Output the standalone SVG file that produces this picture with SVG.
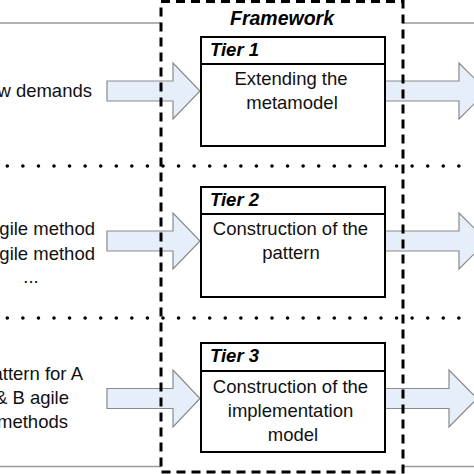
<svg xmlns="http://www.w3.org/2000/svg" width="474" height="474" viewBox="0 0 474 474">
<style>
  .gray { stroke: #9a9a9a; stroke-width: 1.5; fill: none; }
  .dots { stroke: #000; stroke-width: 3.6; stroke-linecap: round; stroke-dasharray: 0 15.57; fill: none; }
  .arrow { fill: #e6eff9; stroke: #8a8a8a; stroke-width: 1.2; stroke-linejoin: miter; }
  .frame { fill: none; stroke: #000; stroke-width: 3; stroke-dasharray: 9 6; }
  .box { fill: #fff; stroke: #000; stroke-width: 2; }
  .txt { font-family: "Liberation Sans", Arial, sans-serif; font-size: 18.5px; fill: #111; }
  .hdr { font-family: "Liberation Sans", Arial, sans-serif; font-size: 18.5px; font-weight: bold; font-style: italic; fill: #000; }
  .ttl { font-size: 19.5px; }
</style>
<rect x="0" y="0" width="474" height="474" fill="#fff"/>
<g id="separators">
  <line class="gray" x1="0" y1="23" x2="161" y2="23"/>
  <line class="gray" x1="403" y1="23" x2="474" y2="23"/>
  <line class="gray" x1="0" y1="466.5" x2="161" y2="466.5"/>
  <line class="gray" x1="403" y1="466.5" x2="474" y2="466.5"/>
  <line class="dots" x1="7.3" y1="166" x2="474" y2="166"/>
  <line class="dots" x1="7.3" y1="318" x2="474" y2="318"/>
</g>
<g id="connectors">
  <polygon class="arrow" points="107,81 173,81 173,63 200,91 173,119 173,101 107,101"/>
  <polygon class="arrow" points="107,231 173,231 173,213 200,241 173,269 173,251 107,251"/>
  <polygon class="arrow" points="107,388.5 173,388.5 173,370 200,398.5 173,427 173,408.5 107,408.5"/>
  <polygon class="arrow" points="385,81 459,81 459,63 487,91 459,119 459,101 385,101"/>
  <polygon class="arrow" points="385,231 459,231 459,213 487,241 459,269 459,251 385,251"/>
  <polygon class="arrow" points="385,388.5 449,388.5 449,370 477,398.5 449,427 449,408.5 385,408.5"/>
</g>
<g id="framework">
  <rect class="frame" x="161" y="1.5" width="242" height="470.5"/>
  <text class="hdr ttl" x="230" y="25">Framework</text>
</g>
<g id="input1">
  <text class="txt" x="92" y="97" text-anchor="end">New demands</text>
</g>
<g id="input2">
  <text class="txt" x="95" y="235" text-anchor="end">A agile method</text>
  <text class="txt" x="95" y="259.5" text-anchor="end">B agile method</text>
  <text class="txt" x="31" y="283" text-anchor="middle">...</text>
</g>
<g id="input3">
  <text class="txt" x="83" y="380" text-anchor="end">Pattern for A</text>
  <text class="txt" x="69" y="404" text-anchor="end">A &amp; B agile</text>
  <text class="txt" x="68" y="427.5" text-anchor="end">methods</text>
</g>
<g id="tier1">
  <rect class="box" x="201" y="37" width="184" height="109"/>
  <line class="box" x1="201" y1="64" x2="385" y2="64"/>
  <text class="hdr" x="210" y="55.5">Tier 1</text>
  <text class="txt" x="291" y="85" text-anchor="middle">Extending the</text>
  <text class="txt" x="292" y="109" text-anchor="middle">metamodel</text>
</g>
<g id="tier2">
  <rect class="box" x="201" y="187" width="184" height="110"/>
  <line class="box" x1="201" y1="214" x2="385" y2="214"/>
  <text class="hdr" x="210" y="205.5">Tier 2</text>
  <text class="txt" x="290.5" y="235" text-anchor="middle">Construction of the</text>
  <text class="txt" x="291" y="259" text-anchor="middle">pattern</text>
</g>
<g id="tier3">
  <rect class="box" x="201" y="343" width="184" height="109"/>
  <line class="box" x1="201" y1="371" x2="385" y2="371"/>
  <text class="hdr" x="210" y="361.5">Tier 3</text>
  <text class="txt" x="290.5" y="392.5" text-anchor="middle">Construction of the</text>
  <text class="txt" x="290.5" y="416.5" text-anchor="middle">implementation</text>
  <text class="txt" x="293" y="441" text-anchor="middle">model</text>
</g>
</svg>
